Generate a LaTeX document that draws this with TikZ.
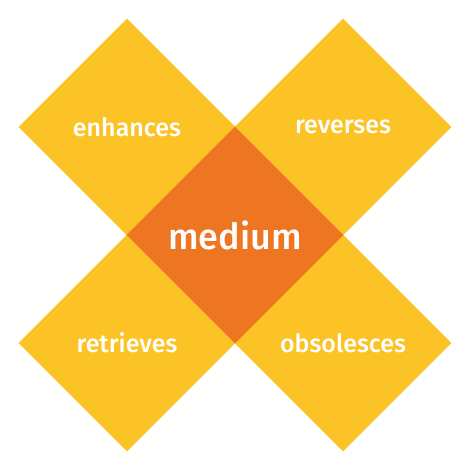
\documentclass[tikz,border=0pt]{standalone}
\usepackage{fontspec}
\setmainfont{Fira Sans}[UprightFont=* Medium, BoldFont=* SemiBold]
\usetikzlibrary{shapes.geometric}
\definecolor{petalyellow}{RGB}{252,195,38}
\definecolor{coreorange}{RGB}{238,118,35}
\begin{document}
\begin{tikzpicture}[x=1pt, y=-1pt,
    petal/.style={shape=diamond, fill=petalyellow, minimum width=217pt, minimum height=217pt, inner sep=0pt, text=white, font=\fontsize{25}{30}\selectfont},
    core/.style={petal, fill=coreorange, font=\fontsize{36}{42}\selectfont}]
  \useasboundingbox (0,0) rectangle (470,470);
  \node[petal] (enhances) at (127,127) {enhances};
  \node[petal] (reverses) at (343,127) {reverses};
  \node[petal] (retrieves) at (127,343) {retrieves};
  \node[petal] (obsolesces) at (343,343) {obsolesces};
  \node[core] (medium) at (235,235) {medium};
\end{tikzpicture}
\end{document}
